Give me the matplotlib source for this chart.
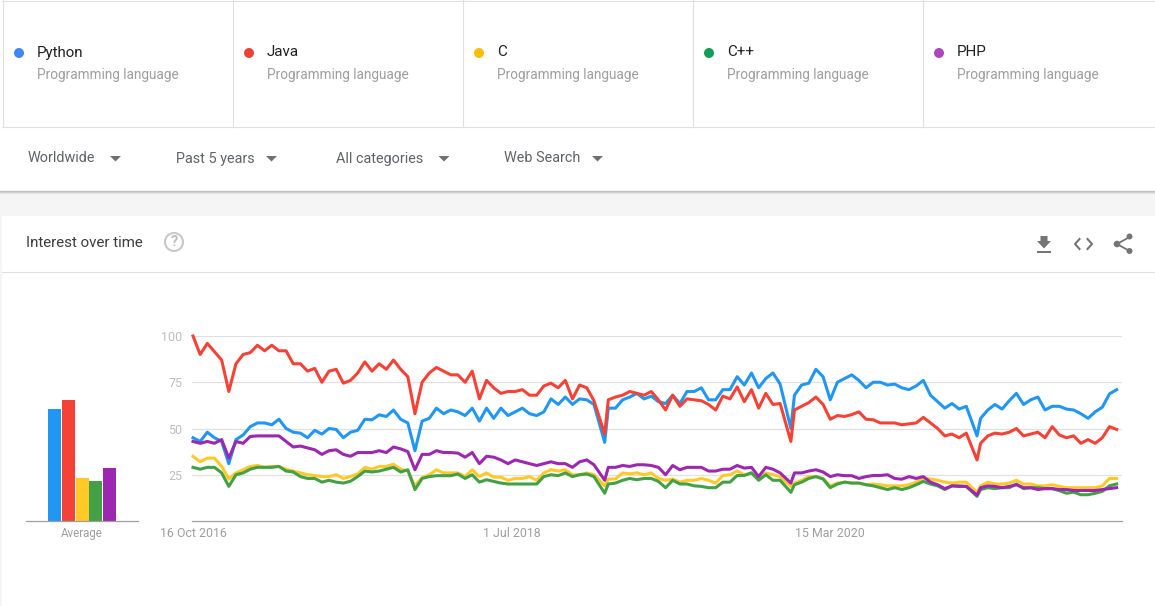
import numpy as np
import pandas as pd
import matplotlib
matplotlib.use("Agg")
import matplotlib.pyplot as plt
from matplotlib.patches import Rectangle, Circle, Polygon
from matplotlib.lines import Line2D

plt.rcParams['font.family'] = ['Roboto', 'DejaVu Sans']

W, H = 1155, 606

terms = ["Python", "Java", "C", "C++", "PHP"]
subtitle = "Programming language"
filters = ["Worldwide", "Past 5 years", "All categories", "Web Search"]
dot_colors = ["#4285f4", "#ea4335", "#fbbc04", "#0f9d58", "#ab47bc"]
line_colors = ["#2196f3", "#f44336", "#ffca28", "#43a047", "#9c27b0"]
averages = [60.5, 65.5, 23, 21.6, 28.6]
y_ticks = [25, 50, 75, 100]
x_tick_dates = ["2016-10-16", "2018-07-01", "2020-03-15"]
x_tick_labels = ["16 Oct 2016", "1 Jul 2018", "15 Mar 2020"]

python_vals = [45,43,48,45,43,31,44,46.5,51,53,53,52,55,50,48,47.5,45,49,47,50,49.5,45,48,49,55,54.7,57.4,56.5,60,55,53,38,54,55.5,61,58,60,59,57,61,54,61,55.5,61,
    57,59,61,58,57,59,66,63,67,63,66,65.5,63,42.5,61,61,65.5,67,69,66,67.5,64.5,63.5,68,63.5,70,70,72,65.5,65.5,71,71,78,73.5,80,72,77,80,74,50,68,
    73.5,74.5,82,78,65.5,75,77,79,76,72,75,75,73.5,74,72,71,73,76,68,64.5,61,63.5,60.5,62,46,55.5,60,63,60.5,65,69,63,65.5,67,60,62,62,60.5,60,58,55.5,59,61.5,68.7,71]
java_vals = [100,90,96,91.5,87,70,85,90,91,95,92,95,92,92,85,85,81,82.5,75,81,82,74.5,76,80,86,81,85,82,87,82,78,58,75,80,83,81,79,79,75,81,66,76,72,69,
    70,70,71,68,68,73,74.5,72,76,66,73.5,72,65,47,65.5,67,68,70,69,68,70,65.5,60,68,62,66,65.5,65,63,60,67.5,66,72.5,64.5,71,61,69,63,63.5,43,60,
    62,64,67,63,55,57,56.5,57.5,59,55,54.7,53,53,53,52,52.5,53,56,53,50,46,47,45,47.5,33,42,46,47.5,47,48,50,46,47,48,45,51,46.5,45,46,42,44,42,45,51,49.5]
c_vals = [35,32,34,34,29.5,22.7,26,27.7,29.5,30,29,29.5,29.5,28,27,26,25,24.6,24,24,25,23,24,25.5,29,28,29.5,29.5,30.7,28,27,19,23.5,25,27.7,26,26,26,24,27.7,24,26,23.7,23.7,
    22,23,23,24,22,26,27.7,27,27.7,25,25,26,25,19,22.7,22.7,26,25.5,26,25,26,23,22,22.7,21,22,22,23,22,20.5,24.6,25,27,25,26,23,26,25,24,18.7,20.5,
    22,24,24,23,19,20.5,21,20.5,20.5,19.6,20,19.6,19,19,19,19.6,21,23,22.7,22,21,20.5,21,21,15.5,19,21,20,20,20.5,22,20,20,19,19,19.6,18.7,18,18,18,18,18,19,23,23]
cpp_vals = [29,28,29,29,26,18.7,25,26,28,29,29,29,29.5,27,26.5,24,23,23,21,22,21,20.5,21.5,24,27,26.5,27,28,29,26.5,27.7,17,23,24,24.5,24.5,24.5,25.4,23,25,21,22.3,21.4,20.5,
    20,20,20,20,20,24,25,24.5,26,24,25,25.4,24,15,20,20.5,22,23,22.3,23,23,21.4,18,22,20,20,19,18.7,18,18,21,21,24.6,24.6,26,22,25,22,22,15.5,19.6,
    21,23,24,22.7,18,20,21,20.5,20.5,19.6,19,18,17,18,17,18,19.6,21.4,20,19,17,19,19,18.7,13.3,17,18,17.5,18,18,20,17.5,18,18,17.5,17.5,16.4,15,15.6,14.2,14.2,15,16,19,20]
php_vals = [43,42,43,42,44,34,43,42,45.7,46,46,46,46,43,40,40.5,39.5,38.5,36,38,38.5,36,35,37,37,37,38,37,40,39,37.5,27.7,36,36,38,37,37,36.7,34.5,37,31,35,34.5,33,
    31,33,32,31,30,31,32,31,31,29,32,33,30.4,22,29,29,30,29.5,30.4,30.4,30,29,25,30,27.7,29,29,29,27,27,28,28,30,28.6,29,24,29,28,26,20.5,26,
    26,27,27.7,26.5,24,25,24.5,24.5,23,24,24.6,24.6,25,23,22.6,24,23,24,21,19.6,17.5,19,18.7,18.7,14,18,19,18.7,18,18.7,19.6,18,18,17,17.5,17.5,17,17,16.5,16.5,16.5,16.5,17,17.5,18]
series = [python_vals, java_vals, c_vals, cpp_vals, php_vals]

# dates: fortnightly, with the winter dips falling on their own week
weeks = list(range(0, 260, 2))
weeks[57] = 115
weeks[83] = 167
weeks[109] = 219
dates = pd.Timestamp("2016-10-16") + pd.to_timedelta(np.array(weeks) * 7, unit="D")

fig = plt.figure(figsize=(W / 100, H / 100), dpi=100, facecolor="white")

def pos(x0, y0, x1, y1):
    return [x0 / W, 1 - y1 / H, (x1 - x0) / W, (y1 - y0) / H]

# UI chrome in pixel coordinates
ui = fig.add_axes([0, 0, 1, 1], zorder=0)
ui.set_xlim(0, W)
ui.set_ylim(H, 0)
ui.axis("off")
BORDER = "#e0e0e0"

ui.add_patch(Rectangle((0, 191), W, 25, fc="#f5f5f5", ec="none"))
ui.add_patch(Rectangle((0, 216), 2, H - 216, fc="#f5f5f5", ec="none"))
for yy, col in zip([190.5, 191.5, 192.5], ["#bdbdbd", "#cfcfcf", "#e6e6e6"]):
    ui.add_line(Line2D([0, W], [yy, yy], color=col, lw=0.9))
ui.add_line(Line2D([2, W], [126.5, 126.5], color=BORDER, lw=0.8))
ui.add_line(Line2D([2, W], [271.5, 271.5], color=BORDER, lw=0.8))
for xx in [2.5, 232.5, 462.5, 692.5, 922.5]:
    ui.add_line(Line2D([xx, xx], [0, 126.5], color=BORDER, lw=0.8))
ui.add_line(Line2D([2, W], [0.5, 0.5], color=BORDER, lw=0.8))

for k, term in enumerate(terms):
    x0 = 19 + 230 * k
    ui.add_patch(Circle((x0, 53), 5, fc=dot_colors[k], ec="none"))
    ui.text(x0 + 18, 52.5, term, fontsize=10.9, color="#212121", va="center", ha="left")
    ui.text(x0 + 18, 75, subtitle, fontsize=9.8, color="#9e9e9e", va="center", ha="left")

filter_x = [27.5, 175.5, 335.5, 504.5]
arrow_x = [115.5, 271.5, 444, 597.5]
for fx, ax_, label in zip(filter_x, arrow_x, filters):
    ui.text(fx, 158.5, label, fontsize=10.4, color="#5f6368", va="center", ha="left")
    ui.add_patch(Polygon([(ax_ - 5.5, 156), (ax_ + 5.5, 156), (ax_, 161.5)], fc="#707070", ec="none"))

ui.text(26, 243, "Interest over time", fontsize=10.9, color="#3c3c3c", va="center", ha="left")
ui.add_patch(Circle((174, 242), 9, fc="none", ec="#c8c8c8", lw=1.5))
ui.text(174, 242.5, "?", fontsize=10.5, color="#bdbdbd", va="center", ha="center", fontweight="bold")

# icons
ic = "#757575"
ui.add_patch(Polygon([(1040.5, 236), (1047.5, 236), (1047.5, 241), (1051, 241), (1044, 248.5), (1037, 241), (1040.5, 241)], fc=ic, ec="none"))
ui.add_patch(Rectangle((1036.5, 250.5), 14.5, 2, fc=ic, ec="none"))
ui.add_line(Line2D([1079.5, 1075, 1079.5], [239, 244, 249], color=ic, lw=1.5))
ui.add_line(Line2D([1087.5, 1092, 1087.5], [239, 244, 249], color=ic, lw=1.5))
ui.add_line(Line2D([1129.5, 1117, 1129.5], [237, 244, 251], color=ic, lw=1.3))
for cx, cy, r in [(1129.5, 236.5, 3), (1117, 244, 3.3), (1129.5, 251, 3)]:
    ui.add_patch(Circle((cx, cy), r, fc=ic, ec="none"))

# main chart
PX_WEEK = 3.58
x_left_px, x_right_px = 192, 1122
d0 = matplotlib.dates.date2num(pd.Timestamp("2016-10-16"))
day_per_px = 7 / PX_WEEK
ax = fig.add_axes(pos(x_left_px, 336, x_right_px, 521), zorder=2)
ax.patch.set_alpha(0)
ax.set_xlim(d0 - (193 - x_left_px) * day_per_px, d0 + (x_right_px - 193) * day_per_px)
ax.set_ylim(0, 100)
for vals, col in zip(series, line_colors):
    ax.plot(dates, vals, color=col, lw=2.2, solid_joinstyle="round", clip_on=False, zorder=3)
ax.set_yticks(y_ticks)
ax.set_yticklabels([str(v) for v in y_ticks], fontsize=9, color="#bdbdbd")
ax.set_xticks(pd.to_datetime(x_tick_dates))
ax.set_xticklabels(x_tick_labels, fontsize=8.9, color="#9e9e9e")
ax.tick_params(axis="both", length=0)
ax.tick_params(axis="y", pad=7)
ax.tick_params(axis="x", pad=4)
ax.grid(axis="y", color="#e0e0e0", lw=0.9)
ax.set_axisbelow(True)
for s in ["top", "right", "left"]:
    ax.spines[s].set_visible(False)
ax.spines["bottom"].set_color("#9e9e9e")
ax.spines["bottom"].set_linewidth(0.9)

# average bars
bar_ax = fig.add_axes(pos(26, 336, 138, 521), zorder=2)
bar_ax.patch.set_alpha(0)
bar_ax.set_xlim(26, 138)
bar_ax.set_ylim(0, 100)
bar_x = np.array([54.5, 68.5, 82, 95.5, 109.5])
bar_ax.bar(bar_x, averages, width=13, color=line_colors)
bar_ax.set_yticks([])
bar_ax.set_xticks([82])
bar_ax.set_xticklabels(["Average"], fontsize=8.3, color="#9e9e9e")
bar_ax.tick_params(axis="x", length=0, pad=4)
for s in ["top", "right", "left"]:
    bar_ax.spines[s].set_visible(False)
bar_ax.spines["bottom"].set_color("#9e9e9e")
bar_ax.spines["bottom"].set_linewidth(0.9)

fig.savefig("out.png", dpi=100, facecolor="white")
